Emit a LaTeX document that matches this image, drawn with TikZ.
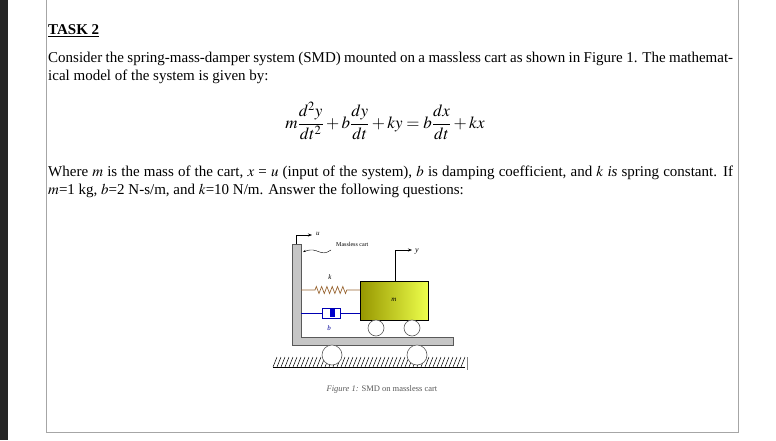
\documentclass[tikz,border=0pt]{standalone}
\usepackage{mathptmx}
\usepackage{fontspec}
\setmainfont{Liberation Serif}
\usetikzlibrary{decorations.pathmorphing,patterns,arrows.meta}
\begin{document}
\begin{tikzpicture}[x=1pt,y=-1pt,
  txt/.style={inner sep=0pt,anchor=north west,font=\fontsize{15}{18}\selectfont,align=justify,text width=685pt},
  small/.style={inner sep=0pt,font=\fontsize{6}{7}\selectfont},
  wheel/.style={draw=gray!70!black,fill=white,line width=0.6pt},
  arr/.style={-{Stealth[length=4pt]},line width=0.5pt}]
\useasboundingbox (0,0) rectangle (776,440);
\fill[black!85] (0,0) rectangle (8,440);
\draw[gray!70,line width=0.8pt] (46,0) -- (46,432) -- (738,432) -- (738,0);
\node[inner sep=0pt,anchor=base west,font=\fontsize{15}{17}\selectfont\bfseries] (title) at (48,34) {\underline{TASK 2}};
\node[txt] (p1) at (48,52) {Consider the spring-mass-damper system (SMD) mounted on a massless cart as shown in Figure 1. The mathematical model of the system is given by:};
\node[inner sep=0pt,font=\fontsize{17}{20}\selectfont] (eq) at (385,121) {$\displaystyle m\frac{d^2y}{dt^2}+b\frac{dy}{dt}+ky=b\frac{dx}{dt}+kx$};
\node[txt] (p2) at (48,166) {Where $m$ is the mass of the cart, $x$ = $u$ (input of the system), $b$ is damping coefficient, and $k$ \emph{is} spring constant. If $m$=1 kg, $b$=2 N-s/m, and $k$=10 N/m. Answer the following questions:};
% figure
\fill[gray!45] (292,244) rectangle (301,345);
\fill[gray!45] (292,337) rectangle (453,345);
\draw[gray!70!black,line width=0.4pt] (292,244) -- (301,244) -- (301,337) -- (453,337) -- (453,345) -- (292,345) -- cycle;
\shade[left color=olive!70!yellow!60!gray, right color=yellow!60!lime!70] (360,281) rectangle (428,320);
\draw[line width=0.5pt] (360,281) rectangle (428,320);
\node[small,font=\fontsize{7}{8}\selectfont\itshape] (m) at (394,300) {m};
\draw[wheel] (376,328) circle (8);
\draw[wheel] (412,328) circle (8);
\draw[line width=0.6pt] (273,367) -- (465,367);
\foreach \i in {0,...,47} \draw[line width=0.5pt] (273+4*\i,367) -- (277+4*\i,357);
\draw[gray] (467,357) -- (467,370);
\draw[wheel] (332,355) circle (10);
\draw[wheel] (417,355) circle (10);
\draw[brown!80!black,line width=0.7pt] (301,290) -- (315,290)
  decorate[decoration={zigzag,segment length=5.3pt,amplitude=3.5pt}]{-- (347,290)} -- (360,290);
\node[small,font=\fontsize{7}{8}\selectfont\itshape] (k) at (330,277) {k};
\draw[blue!70!black,line width=0.8pt] (301,313) -- (324,313) (332,313) -- (360,313);
\draw[blue!70!black,fill=white,line width=0.6pt] (322,308) rectangle (340,318);
\fill[blue!80!black] (330,309) rectangle (335,317);
\node[small,font=\fontsize{7}{8}\selectfont\itshape,text=blue!60!black] (b) at (329,328) {b};
\coordinate (u0) at (296,244);
\draw (u0) -- (296,235) coordinate (uc);
\draw[arr] (uc) -- (312,235) coordinate (ue);
\node[small,font=\fontsize{7}{8}\selectfont\itshape,anchor=west] (u) at (316,234) {u};
\coordinate (y0) at (395,281);
\draw (y0) -- (395,250) coordinate (yc);
\draw[arr] (yc) -- (412,250) coordinate (ye);
\node[small,font=\fontsize{8}{9}\selectfont\itshape,anchor=west] (y) at (415,252) {y};
\node[small,anchor=west] (mc) at (336,244) {Massless cart};
\draw[line width=0.4pt,-{Stealth[length=3pt]}] (331,250) .. controls (320,258) and (318,246) .. (303,252);
\node[inner sep=0pt,font=\fontsize{8.5}{10}\selectfont,text=gray!70!black] (cap) at (382,389) {\emph{Figure 1:} SMD on massless cart};
\end{tikzpicture}
\end{document}
